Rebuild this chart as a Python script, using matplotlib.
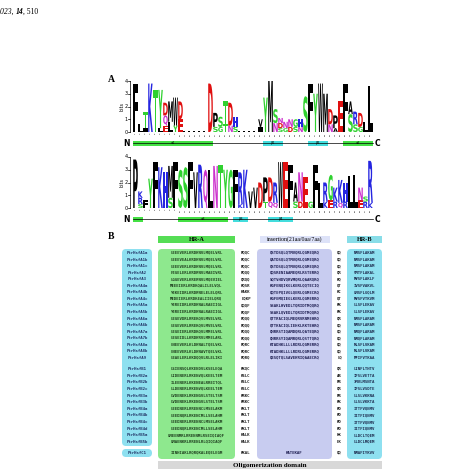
import matplotlib
matplotlib.use("Agg")
import matplotlib.pyplot as plt
from matplotlib.patches import PathPatch, Rectangle, FancyBboxPatch
from matplotlib.textpath import TextPath
from matplotlib.font_manager import FontProperties
from matplotlib.transforms import Affine2D

# ---- data: sequence logo stacks (letter, bits), bottom to top order is small->large
LOGO_ROW1 = [
    [("F", 3.8)], [("L", 0.6)], [("I", 0.3), ("T", 1.3)], [("K", 3.8)], [("T", 3.3)],
    [("L", 0.3), ("Y", 3.0)], [("E", 0.5), ("Q", 0.8), ("D", 1.0)], [("L", 0.8), ("M", 1.6)],
    [("Y", 0.5), ("W", 2.2)], [("E", 1.0), ("D", 1.4)],
    [("L", 0.05)], [("L", 0.05)], [("L", 0.05)], [("L", 0.05)], [("L", 0.05)],
    [("D", 3.8)], [("S", 0.4), ("P", 1.1)], [("G", 0.4), ("S", 0.8)], [("T", 0.6), ("T", 1.8)],
    [("N", 0.5), ("D", 1.8)], [("S", 0.4), ("H", 0.8)],
    [("L", 0.05)], [("L", 0.05)], [("L", 0.05)], [("L", 0.05)],
    [("I", 0.4), ("V", 0.6)], [("Y", 2.7)], [("M", 4.0)], [("N", 0.7), ("S", 1.1)],
    [("S", 0.3), ("D", 0.4), ("N", 0.4)], [("G", 0.3), ("N", 0.5)], [("D", 0.4), ("N", 0.6)],
    [("S", 0.4), ("G", 0.6)], [("N", 0.4), ("H", 0.6)], [("S", 2.8)], [("F", 3.8)],
    [("Y", 3.0)], [("W", 3.8)], [("M", 3.0)], [("N", 0.6), ("D", 1.2)], [("A", 0.3), ("P", 1.0)],
    [("E", 2.4)], [("F", 3.8)], [("S", 1.4), ("A", 1.0)], [("S", 0.6), ("R", 1.0)],
    [("G", 0.4), ("D", 1.1)], [("L", 0.8)], [("L", 3.6)],
]
LOGO_ROW2 = [
    [("P", 3.8)], [("S", 0.3), ("R", 0.5), ("K", 0.5)], [("F", 0.6)], [("Y", 2.3)], [("F", 3.6)],
    [("K", 3.2)], [("H", 2.8)], [("S", 0.8), ("M", 2.5)], [("F", 3.6)], [("S", 3.0)],
    [("S", 3.2)], [("F", 3.6)], [("V", 2.8)], [("R", 3.4)], [("Q", 3.0)], [("L", 3.0)],
    [("N", 3.3)], [("T", 3.4)], [("Y", 3.0)], [("G", 3.0)], [("F", 3.0)], [("K", 0.3), ("R", 2.5)],
    [("K", 3.0)], [("V", 1.3)], [("V", 1.6)], [("D", 2.0)], [("T", 0.5), ("P", 1.9)],
    [("Q", 0.5), ("D", 1.9)], [("Q", 0.4), ("R", 1.6)], [("W", 3.6)], [("E", 3.6)], [("F", 3.4)],
    [("S", 0.5), ("A", 1.5)], [("D", 0.5), ("N", 2.3)], [("E", 2.4)], [("G", 0.5)],
    [("F", 3.4)], [("L", 2.0)], [("K", 0.5), ("R", 1.5)], [("E", 0.6), ("G", 2.0)],
    [("R", 0.5), ("K", 1.1)], [("Q", 0.4), ("K", 1.8)], [("R", 0.5), ("H", 1.5)], [("L", 2.5)],
    [("L", 2.6)], [("E", 0.6), ("N", 1.0)], [("R", 0.5), ("S", 0.4)], [("K", 0.4), ("R", 3.3)],
]
ROW1_BARS = [("α1", 0, 15, "green"), ("β1", 26, 29, "cyan"), ("β2", 35, 38, "cyan"), ("α2", 42, 47, "green")]
ROW2_BARS = [("", 0, 1, "green"), ("α3", 9, 18, "green"), ("β3", 20, 22, "cyan"), ("β4", 27, 31, "cyan")]

NAMES_A = ["PtrHsfA1a", "PtrHsfA1b", "PtrHsfA1c", "PtrHsfA2", "PtrHsfA3", "PtrHsfA4a",
           "PtrHsfA4b", "PtrHsfA4c", "PtrHsfA5a", "PtrHsfA5b", "PtrHsfA6a", "PtrHsfA6b",
           "PtrHsfA7a", "PtrHsfA7b", "PtrHsfA8a", "PtrHsfA8b", "PtrHsfA9"]
NAMES_B = ["PtrHsfB1", "PtrHsfB2a", "PtrHsfB2b", "PtrHsfB2c", "PtrHsfB3a", "PtrHsfB3b",
           "PtrHsfB4a", "PtrHsfB4b", "PtrHsfB4c", "PtrHsfB4d", "PtrHsfB5a", "PtrHsfB5b"]
NAMES_C = ["PtrHsfC1"]
HRA_A = ["LEEEVERLKRDKNVLMQELVRL", "LEEEVEALKRDKNVLMQELVRL", "LEEEVERLKRDKNVLMQELVRL",
         "FEGELERLKRDRNVLMAEIVRL", "LGGEVERLKRERNVLMQEVIEL", "MEEEIERLKRDKQALILELVQL",
         "YEKEIDRLKRDRNELELELQRL", "MEDEIERLKRDKEALIIELQRQ", "YEREIDRLKRDKNALRAEIIGL",
         "YEREIERLKRDKNALRAEIIGL", "LEGEVDRLRREKQVLMVELVRL", "LEGEVERLRREKQVLMVELVRL",
         "LEGEIERLKRDKQVLMMELVRL", "LEGEIDLLKRDKRVLMMELARL", "LNEEVERLKLDKNALTQELVKL",
         "LNEEVERLKLDKNAVTQELVKL", "LEAELERLKKDQQVLRLELIKI"]
HRB_A = ["MMSFLAKAM", "MMSFLAKAM", "MMSFLAKAM", "VMTFLAKAL", "MVSFLAKLF", "IVSFVAKVL",
         "LMSFLGQLM", "MVSFVTKVM", "LLSFLEKAV", "LLSFLEKAV", "MMSFLARAM", "MMSFLARAM",
         "MMQFLARAM", "MMQFLARAM", "MLSFLVKAM", "MLSFLVKAM", "MFIFVTKAA"]
LINK_A = ["RQQC", "RQQC", "RQQC", "RQQQ", "QRQQ", "KQSR", "KAKK", "EQKP", "QQQF", "RQQF",
          "RQQQ", "RQQQ", "RQQQ", "RQQQ", "RQRC", "RQRC", "RQRQ"]
MID_A = ["QQ", "QQ", "QQ", "QR", "KQ", "QT", "KC", "QT", "KK", "KK", "QR", "QQ", "QQ", "QQ",
         "QQ", "QQ", "LQ"]
INS_A = ["QSTDSQLQTMVQRLQGMEQRQ", "QATDSQLQTMVQRLQGMEQRQ", "QSTDSQLQTMVQRLQGMEQRQ",
         "QQSRENIAAMEQRLRSTERRQ", "SQTVHDVQRVMQRLQAARQRQ", "KGFENQIKGLKERLQQTECIQ",
         "QQTEPQIVGLQERLQGMECRQ", "KGFEMQIEGLKERLQGMERRQ", "SSAKLHVEDLTQRIDTMQQRQ",
         "SSAKLQVEDLTQRIDTMQQRQ", "QTTRACIQLMEQRVRNMEHRQ", "QTTKACIQLIEHKLRKTEHRQ",
         "QHRRSTIQAMDQRLQATEQRQ", "QHRRSYIQAMRQRLQSTTQRQ", "KTADHKLLLLRDRLQGMERRQ",
         "KTADHKLLLLRDRLQGMERRQ", "QESQTQLSAVEKRIQAAECRQ"]
HRA_B = ["LSIENSQLKKENDVLKSELEQA", "LIDENERLRKENVQLKEELTEM", "ILEENERLKKENEALRREITQL",
         "LLDENERLRKENVQLKEELTEM", "LVDENEKLRKENGVLSTELTSM", "LVDENEKLRKENGVLSTELTSM",
         "LEEDNERLRRENNCLMSELAKM", "LEEDNQRLRKENCMLLSELAHM", "LEEDNERLRRENNCLMSELAKM",
         "LEEDNQRLRKENCMLLSELAHM", "LMEENMRLRRENNMLRSEIQIAQF", "LMAENKRLRRENLRLQIQIAQF"]
LINK_B = ["KKQC", "KSLC", "KSLC", "KSLC", "KRKC", "KRKC", "KKLT", "KKLT", "KKLT", "KKLT",
          "KALK", "KALK"]
MID_B = ["QR", "AR", "RR", "QR", "RR", "KK", "KD", "KD", "KD", "KD", "HK", "EK"]
HRB_B = ["LINFLTHTV", "IFSLVETTA", "IMVLMSNTA", "IFSLVSDTE", "LLSLVKKNA", "LLSLVKKTA",
         "ITTFVQNMV", "IITFIQNMV", "ITTFVQNMV", "IITFIQNMV", "LLDCLTQEM", "LLDCLMQEM"]
HRA_C = ["IINHIAKLRQRQKALEQELEGM"]
LINK_C = ["KKAL"]
INS_C = ["KATEKAF"]
MID_C = ["QQ"]
HRB_C = ["MMAFIYKVV"]

COLORS = {}
for ch in "FLIMWPVA":
    COLORS[ch] = "black"
for ch in "STYGC":
    COLORS[ch] = "#2fd12f"
for ch in "KRH":
    COLORS[ch] = "#2525e0"
for ch in "DE":
    COLORS[ch] = "#e01010"
for ch in "NQ":
    COLORS[ch] = "#cc30cc"

fig = plt.figure(figsize=(4.74, 4.74), dpi=100)
ax = fig.add_axes([0, 0, 1, 1])
ax.set_xlim(0, 474)
ax.set_ylim(474, 0)
ax.axis("off")

font_bold = FontProperties(family="DejaVu Sans", weight="bold")


def draw_letter(ch, x0, y_bottom, w, h):
    if h <= 0.3:
        ax.add_patch(Rectangle((x0, y_bottom - h), w, max(h, 0.3), color=COLORS.get(ch, "black"), lw=0))
        return
    path = TextPath((0, 0), ch, size=10, prop=font_bold)
    ext = path.get_extents()
    tr = (Affine2D().translate(-ext.x0, -ext.y0)
          .scale(w / ext.width, -h / ext.height).translate(x0, y_bottom))
    ax.add_patch(PathPatch(tr.transform_path(path), color=COLORS.get(ch, "black"), lw=0))


def draw_logo(stacks, x_left, x_right, y_top, y_bottom, bars, bar_y):
    n = len(stacks)
    step = (x_right - x_left) / n
    scale = (y_bottom - y_top) / 4.0
    ax.plot([x_left - 3, x_left - 3], [y_top, y_bottom], color="black", lw=0.5)
    for b in range(5):
        yy = y_bottom - b * scale
        ax.plot([x_left - 4.5, x_left - 3], [yy, yy], color="black", lw=0.5)
        ax.text(x_left - 5, yy, str(b), fontsize=3.5, ha="right", va="center")
    ax.text(x_left - 11, (y_top + y_bottom) / 2, "bits", fontsize=3.5, rotation=90,
            ha="center", va="center")
    for i, stack in enumerate(stacks):
        ybase = y_bottom
        for ch, bits in stack:
            h = bits * scale
            draw_letter(ch, x_left + i * step + 0.2, ybase, step - 0.4, h)
            ybase -= h
        ax.text(x_left + (i + 0.5) * step, y_bottom + 1, str(i + 1), fontsize=1.6,
                rotation=90, ha="center", va="top")
    ax.plot([x_left, x_right], [bar_y, bar_y], color="black", lw=0.5)
    ax.text(x_left - 3, bar_y, "N", fontsize=5.5, fontweight="bold", ha="right", va="center")
    ax.text(x_right + 2, bar_y, "C", fontsize=5.5, fontweight="bold", ha="left", va="center")
    for label, i0, i1, kind in bars:
        col = "#44e044" if kind == "green" else "#44dddd"
        ax.add_patch(Rectangle((x_left + i0 * step, bar_y - 2.5), (i1 - i0 + 1) * step, 5,
                               color=col, lw=0))
        ax.text(x_left + (i0 + i1 + 1) / 2 * step, bar_y, label, fontsize=2.5,
                ha="center", va="center")


# header (cut at the left edge as in the source page), pieces placed one after another
renderer = fig.canvas.get_renderer()
hx = 0.0
for piece, style, weight in [("023, ", "italic", "normal"), ("14", "italic", "bold"),
                             (", 510", "normal", "normal")]:
    t = ax.text(hx, 12, piece, fontsize=5.5, fontstyle=style, fontweight=weight,
                family="Liberation Serif", va="center")
    bb = t.get_window_extent(renderer)
    hx += bb.width * 474 / fig.bbox.width

ax.text(108, 79, "A", fontsize=7, fontweight="bold", family="Liberation Serif", va="center")
draw_logo(LOGO_ROW1, 133, 373, 81, 132, ROW1_BARS, 143)
draw_logo(LOGO_ROW2, 133, 373, 157, 208, ROW2_BARS, 219)

# ---- panel B
ax.text(108, 236, "B", fontsize=7, fontweight="bold", family="Liberation Serif", va="center")
row_ys = ([253 + i * (105 / 16) for i in range(17)]
          + [369 + i * (73 / 11) for i in range(12)] + [453])
ya0 = row_ys[0]
yb1 = row_ys[28]


def rbox(x0, y0, x1, y1, col):
    ax.add_patch(FancyBboxPatch((x0, y0), x1 - x0, y1 - y0,
                                boxstyle="round,pad=0,rounding_size=4", color=col, lw=0))


rbox(122, ya0 - 4, 152, yb1 + 4, "#8ee0f0")
rbox(122, 449, 152, 457, "#8ee0f0")
rbox(158, ya0 - 4, 235, 459, "#8ee88e")
rbox(257, ya0 - 4, 332, 459, "#c8ccf0")
rbox(347, ya0 - 4, 382, 459, "#8ee0f0")
ax.add_patch(Rectangle((158, 236), 77, 7, color="#55dd55", lw=0))
ax.text(196.5, 239.5, "HR-A", fontsize=4.5, fontweight="bold", family="Liberation Serif",
        ha="center", va="center")
ax.add_patch(Rectangle((260, 236), 70, 7, color="#dde2f8", lw=0))
ax.text(295, 239.5, "insertion(21aa/0aa/7aa)", fontsize=4.2, family="Liberation Serif",
        ha="center", va="center")
ax.add_patch(Rectangle((347, 236), 35, 7, color="#88dde8", lw=0))
ax.text(364.5, 239.5, "HR-B", fontsize=4.5, fontweight="bold", family="Liberation Serif",
        ha="center", va="center")
ax.add_patch(Rectangle((158, 461), 224, 8, color="#d8d8d8", lw=0))
ax.text(270, 465, "Oligomerization domain", fontsize=5, fontweight="bold",
        family="Liberation Serif", ha="center", va="center")

names = NAMES_A + NAMES_B + NAMES_C
hra = HRA_A + HRA_B + HRA_C
links = LINK_A + LINK_B + LINK_C
ins = INS_A + [""] * len(NAMES_B) + INS_C
mids = MID_A + MID_B + MID_C
hrb = HRB_A + HRB_B + HRB_C
seq_kw = dict(fontsize=2.9, family="DejaVu Sans Mono", fontweight="bold", va="center")
for y, nm, a, lk, s, m, b in zip(row_ys, names, hra, links, ins, mids, hrb):
    ax.text(137, y, nm, ha="center", color="#223366", **seq_kw)
    ax.text(196.5, y, a, ha="center", color="#224422", **seq_kw)
    ax.text(246, y, lk, ha="center", color="#222222", **seq_kw)
    ax.text(294.5, y, s, ha="center", color="#222255", **seq_kw)
    ax.text(339.5, y, m, ha="center", color="#222222", **seq_kw)
    ax.text(364.5, y, b, ha="center", color="#223355", **seq_kw)

fig.savefig("out.png", dpi=100)
